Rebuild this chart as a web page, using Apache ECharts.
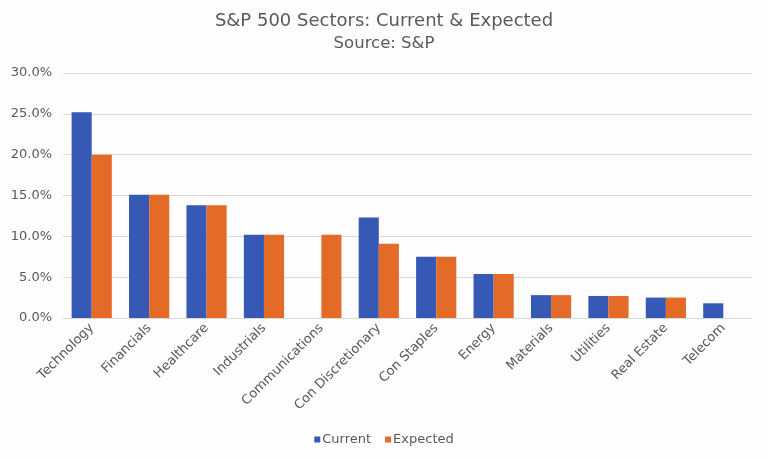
<!DOCTYPE html>
<html><head><meta charset="utf-8">
<script src="https://cdn.jsdelivr.net/npm/echarts@6/dist/echarts.min.js"></script>
<style>html,body{margin:0;padding:0;background:#fdfdfd}#c{width:768px;height:460px}</style>
</head><body><div id="c"></div>
<script>
const categories = ["Technology","Financials","Healthcare","Industrials","Communications","Con Discretionary","Con Staples","Energy","Materials","Utilities","Real Estate","Telecom"];
const current = [25.2, 15.1, 13.8, 10.2, null, 12.3, 7.5, 5.4, 2.8, 2.7, 2.5, 1.8];
const expected = [20.0, 15.1, 13.8, 10.2, 10.2, 9.1, 7.5, 5.4, 2.8, 2.7, 2.5, null];
const seriesNames = ["Current", "Expected"];
const chart = echarts.init(document.getElementById('c'), null, {renderer:'canvas'});
const font = "'DejaVu Sans', Verdana, sans-serif";
chart.setOption({
  backgroundColor:'#fdfdfd',
  animation:false,
  title:{text:'S&P 500 Sectors: Current & Expected', subtext:'Source: S&P', left:'center', top:7,
    textStyle:{fontFamily:font, fontSize:18, fontWeight:'normal', color:'#595959'},
    subtextStyle:{fontFamily:font, fontSize:16.5, color:'#595959'}, itemGap:5},
  legend:{bottom:9, left:'center', itemWidth:6, itemHeight:6, itemGap:14, icon:'rect',
    textStyle:{fontFamily:font, fontSize:13, color:'#595959', padding:[0,0,0,-3]}},
  grid:{left:63, right:16, top:73, bottom:142},
  xAxis:{type:'category', data:categories,
    axisLine:{lineStyle:{color:'#d9d9d9'}}, axisTick:{show:false},
    axisLabel:{rotate:45, fontFamily:font, fontSize:13, color:'#595959', interval:0, margin:8}},
  yAxis:{type:'value', min:0, max:30, interval:5,
    axisLine:{show:false}, axisTick:{show:false},
    splitLine:{lineStyle:{color:'#d9d9d9'}},
    axisLabel:{fontFamily:font, fontSize:13, color:'#595959', margin:11, formatter:v=>v.toFixed(1)+'%'}},
  series:[
    {name:seriesNames[0], type:'bar', data:current, barWidth:'35%', barGap:'0%', itemStyle:{color:'#3559b5'}},
    {name:seriesNames[1], type:'bar', data:expected, barWidth:'35%', barGap:'0%', itemStyle:{color:'#e46a27'}}
  ]
});
</script></body></html>
